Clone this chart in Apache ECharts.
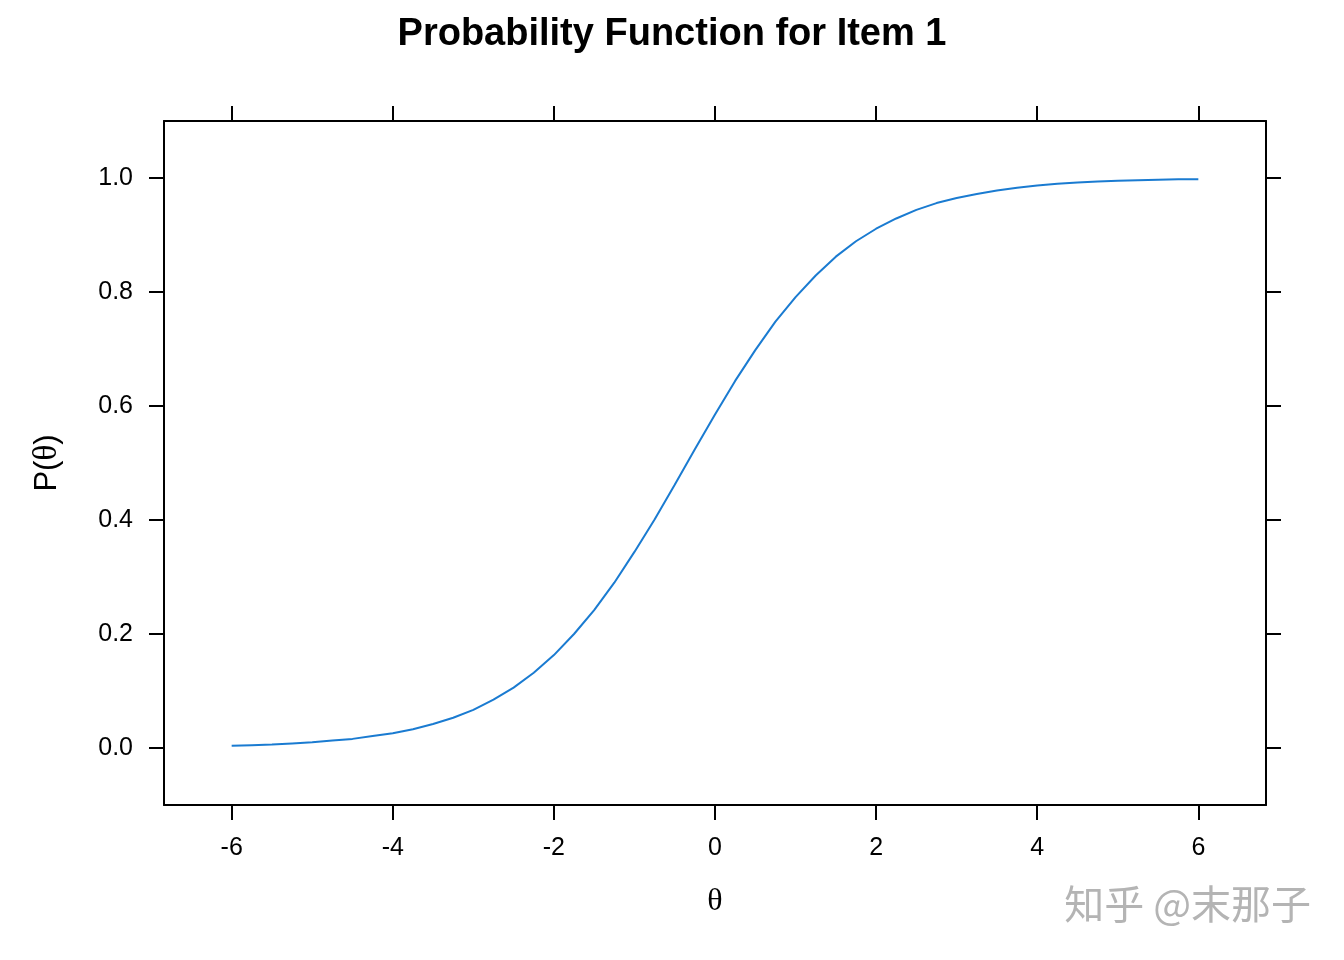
<!DOCTYPE html>
<html>
<head>
<meta charset="utf-8">
<script src="https://cdn.jsdelivr.net/npm/echarts@6/dist/echarts.min.js"></script>
<style>html,body{margin:0;padding:0;background:#fff}#c{width:1344px;height:960px}</style>
</head>
<body>
<div id="c"></div>
<script>
// theta values and read-off probabilities
const theta = [-6,-5.75,-5.5,-5.25,-5,-4.75,-4.5,-4.25,-4,-3.75,-3.5,-3.25,-3,-2.75,-2.5,-2.25,-2,-1.75,-1.5,-1.25,-1,-0.75,-0.5,-0.25,0,0.25,0.5,0.75,1,1.25,1.5,1.75,2,2.25,2.5,2.75,3,3.25,3.5,3.75,4,4.25,4.5,4.75,5,5.25,5.5,5.75,6];
const prob = [0.004,0.005,0.006,0.008,0.010,0.013,0.016,0.021,0.026,0.033,0.042,0.053,0.067,0.085,0.106,0.132,0.163,0.200,0.242,0.290,0.344,0.401,0.462,0.524,0.585,0.644,0.698,0.748,0.791,0.829,0.862,0.889,0.911,0.929,0.944,0.956,0.965,0.972,0.978,0.983,0.987,0.990,0.992,0.994,0.995,0.996,0.997,0.998,0.998];
const xTicks = [-6,-4,-2,0,2,4,6];
const yTicks = [0,0.2,0.4,0.6,0.8,1.0];
const titleText = 'Probability Function for Item 1';
const xName = 'θ';
const yName = 'P(θ)';
const watermark = '知乎 @末那子';

const data = theta.map((t,i)=>[t,prob[i]]);
const chart = echarts.init(document.getElementById('c'));
const axisLine = {show:true, onZero:false, lineStyle:{color:'#000', width:2}};
const tickStyle = {color:'#000', width:2};
const labelFont = {color:'#000', fontSize:25, fontFamily:'Liberation Sans, Arial, sans-serif'};
chart.setOption({
  animation:false,
  backgroundColor:'#fff',
  title:{text:titleText, left:'center', top:11,
    textStyle:{fontSize:38, fontWeight:'bold', color:'#000', fontFamily:'Liberation Sans, Arial, sans-serif'}},
  grid:{left:164, right:78, top:121, bottom:155, containLabel:false},
  xAxis:[
    {type:'value', position:'bottom', min:-6.84, max:6.84,
     axisLine:axisLine, splitLine:{show:false},
     axisTick:{show:true, length:15, lineStyle:tickStyle, customValues:xTicks},
     axisLabel:Object.assign({show:true, margin:31, customValues:xTicks, formatter:v=>String(v)}, labelFont),
     name:xName, nameLocation:'middle', nameGap:81,
     nameTextStyle:{fontSize:32, color:'#000', fontFamily:'Liberation Serif, Times New Roman, serif'}},
    {type:'value', position:'top', min:-6.84, max:6.84,
     axisLine:axisLine, splitLine:{show:false},
     axisTick:{show:true, length:15, lineStyle:tickStyle, customValues:xTicks},
     axisLabel:{show:false}}
  ],
  yAxis:[
    {type:'value', position:'left', min:-0.1, max:1.1,
     axisLine:axisLine, splitLine:{show:false},
     axisTick:{show:true, length:15, lineStyle:tickStyle, customValues:yTicks},
     axisLabel:Object.assign({show:true, margin:31, customValues:yTicks, formatter:v=>v.toFixed(1)}, labelFont),
     name:'P({t|θ})', nameLocation:'middle', nameGap:100, nameRotate:90,
     nameTextStyle:{fontSize:31, color:'#000', fontFamily:'Liberation Sans, Arial, sans-serif',
       rich:{t:{fontSize:33, color:'#000', fontFamily:'Liberation Serif, Times New Roman, serif'}}}},
    {type:'value', position:'right', min:-0.1, max:1.1,
     axisLine:axisLine, splitLine:{show:false},
     axisTick:{show:true, length:15, lineStyle:tickStyle, customValues:yTicks},
     axisLabel:{show:false}}
  ],
  graphic:[
    {type:'text', right:33, top:884, silent:true,
     style:{text:watermark, fill:'#b4b4b4', fontSize:40, fontFamily:'Noto Sans CJK SC, sans-serif'}}
  ],
  series:[
    {type:'line', xAxisIndex:0, yAxisIndex:0, data:data, showSymbol:false, smooth:false,
     lineStyle:{color:'#1a7bd1', width:2}}
  ]
});
</script>
</body>
</html>
